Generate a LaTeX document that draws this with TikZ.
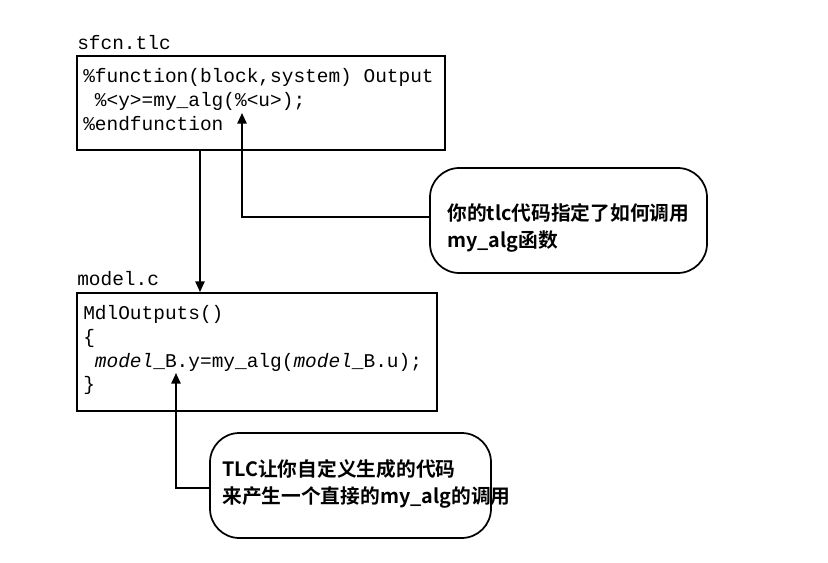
\documentclass[tikz,border=0pt]{standalone}
\usepackage{fontspec}
\setmonofont{Liberation Mono}
\newfontfamily\cjk{Noto Sans CJK SC Bold}
\usetikzlibrary{arrows.meta}
\begin{document}
\begin{tikzpicture}[x=0.75pt,y=-0.75pt,>={Triangle[length=8pt,width=7pt]},
  codebox/.style={draw,line width=1.3pt,inner sep=0pt},
  code/.style={anchor=base west,inner sep=0pt,font=\ttfamily\fontsize{14.6}{18}\selectfont},
  callout/.style={draw,line width=1.3pt,rounded corners=22pt,inner sep=0pt},
  note/.style={anchor=base west,inner sep=0pt,font=\cjk\fontsize{14.8}{18}\selectfont},
  link/.style={->,line width=1.3pt}]
\useasboundingbox (0,0) rectangle (828,563);
% top box
\draw[codebox] (77,56) rectangle (445,150);
\node[code] (tlcname) at (77,50) {sfcn.tlc};
\node[code] (l1) at (83,83) {\%function(block,system) Output};
\node[code] (l2) at (83,107) {~\%<y>=my\_alg(\%<u>);};
\node[code] (l3) at (83,131) {\%endfunction};
% bottom box
\draw[codebox] (77,293) rectangle (437,411);
\node[code] (cname) at (77,285) {model.c};
\node[code] (m1) at (83,319) {MdlOutputs()};
\node[code] (m2) at (83,343) {\{};
\node[code] (m3) at (83,367) {~\textit{model}\_B.y=my\_alg(\textit{model}\_B.u);};
\node[code] (m4) at (83,390) {\}};
% callouts
\draw[callout] (430,168) rectangle (707,273);
\node[note] (n1) at (447,220) {你的tlc代码指定了如何调用};
\node[note] (n2) at (447,247) {my\_alg函数};
\draw[callout] (210,433) rectangle (491,538);
\node[note] (n3) at (222,476) {TLC让你自定义生成的代码};
\node[note] (n4) at (222,503) {来产生一个直接的my\_alg的调用};
% connectors
\coordinate (topout) at (200,150);
\coordinate (botin) at (200,292);
\coordinate (c1) at (430,217);
\coordinate (t1) at (242,113);
\coordinate (c2) at (210,488);
\coordinate (t2) at (176,373);
\draw[link] (topout) -- (botin);
\draw[link] (c1) -| (t1);
\draw[link] (c2) -| (t2);
\end{tikzpicture}
\end{document}
